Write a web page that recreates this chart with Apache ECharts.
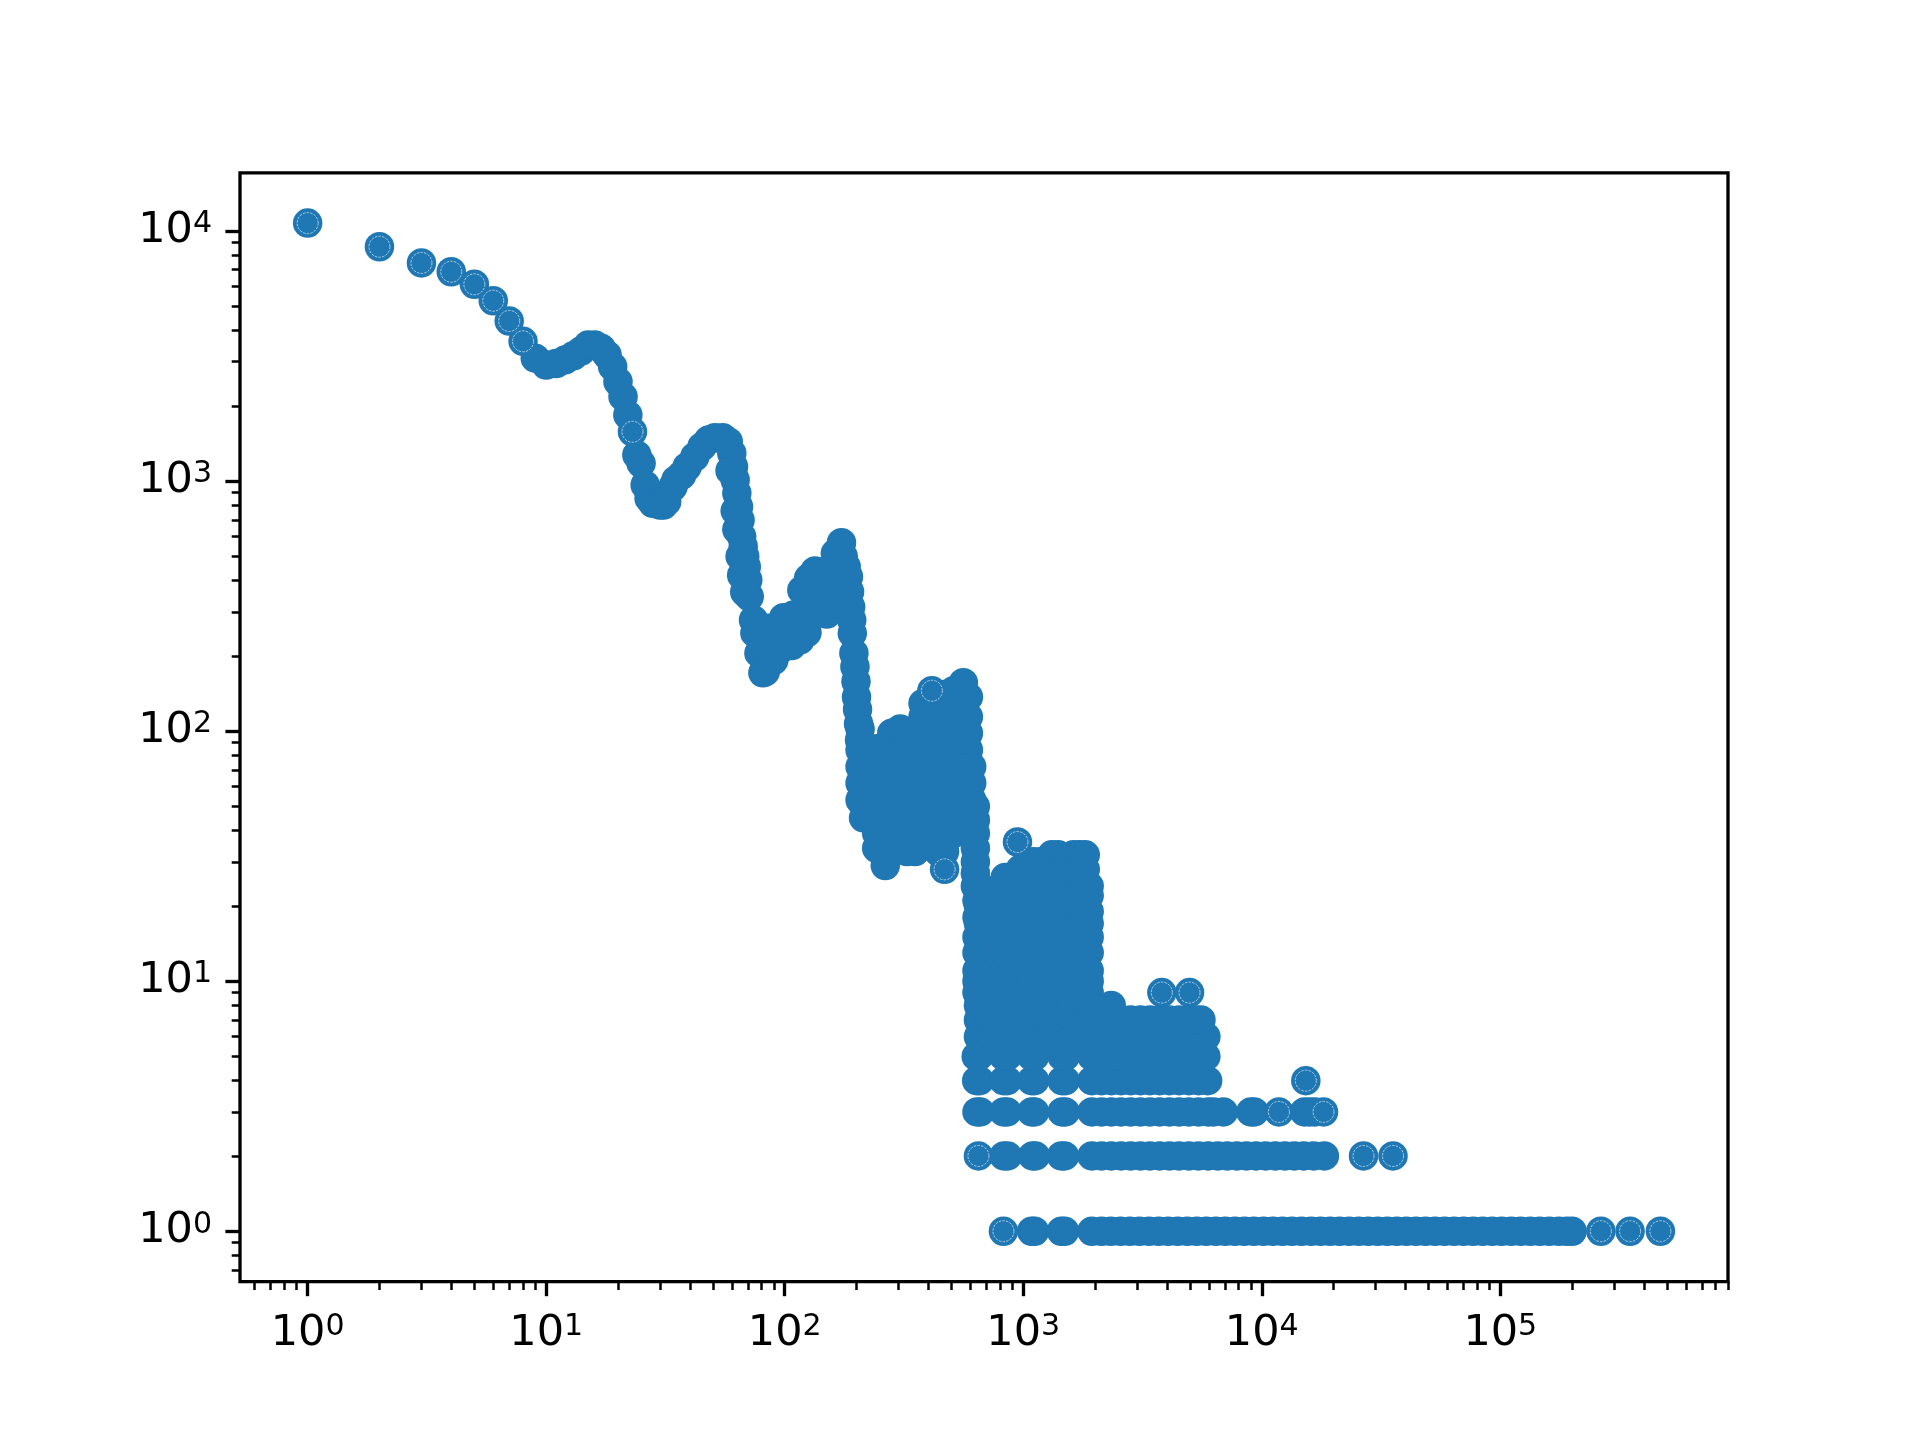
<!DOCTYPE html>
<html>
<head>
<meta charset="utf-8">
<style>html,body{margin:0;padding:0;background:#fff}#c{width:1920px;height:1440px}</style>
<script src="https://cdn.jsdelivr.net/npm/echarts@6/dist/echarts.min.js"></script>
</head>
<body>
<div id="c"></div>
<script>
// Head of the curve: one point per rank
const curveX = [1,2,3,4,5,6,7,8,9,10,11,12,13,14,15,16,17,18,19,20,21,22,23,24,25,26,27,28,29,30,31,32,34,35,37,39,42,45,48,51,55,58,60,61,62,63,64,65,66,67,68,69,70,71,74,75,78,81,59,62,63,65,66,68];
const curveY = [10750,8650,7450,6870,6120,5260,4365,3620,3100,2910,2950,3050,3170,3310,3500,3500,3396,3192,2866,2495,2174,1837,1574,1271,1177,964,853,815,815,802,802,827,949,1010,1057,1141,1250,1372,1460,1490,1490,1437,1291,1141,1010,895,789,698,599,547,500,454,402,345,278,247,205,171,1100,760,640,500,420,360];

// Second hump
const humpX = [85,99,109,118,126,134,152,163,173,83,90,96,107,116,124,136,150,165,99,124,152,173,179,176,181,185,187,189,191,192,195,197,199,200,202,204,206];
const humpY = [258,284,291,366,409,437,441,514,567,173,192,213,220,232,248,299,294,327,247,314,355,454,378,498,454,414,361,314,278,246,205,181,158,137,122,107,92];

// Dense block around 200-650
const blockX = [207,214,228,243,264,281,305,325,352,380,414,440,468,511,561,589,608];
const blockY = [
  [102,84,72,62,53],
  [53,45],
  [84,72,62,53,45],
  [85,72,62,53,45,39,34],
  [84,72,62,53,45,39,33,29],
  [98,84,72,62,53,45,39,36],
  [102,84,72,62,53,45,39,35],
  [98,84,72,62,53,45,39,33],
  [98,84,72,62,53,45,39,33],
  [129,114,98,84,72,62,53,45,39,36],
  [145,133,114,98,84,72,62,53,45,38],
  [137,114,98,84,72,62,53,45,39,33],
  [140,114,98,84,72,62,53,45,39,33,28],
  [145,114,98,84,72,62,53,45,39],
  [156,133,114,98,84,72,62,53,45],
  [137,114,98,84,72],
  [72,62,53,45]
];

// Narrow neck joining the block to the tall block
const neckX = [630,630,630,630,630,630,630,640,640,640,640,640,640,640,640];
const neckY = [50,44,39,34,30,27,24,24,21,18,15,13,11,10,9];

// Tall block around 700-1900
const tallX = [649,727,780,840,946,971,1040,1104,1180,1250,1318,1400,1475,1550,1625,1720,1820,1890];
const tallY = [
  [20,17,15,13,11,10,9,8,7,6],
  [23,19,17,15,13,11,9,7,6],
  [23,19,17,15,13,11,9,7,6],
  [26,22,19,17,15,13,11,10,8,7,6],
  [36],
  [28,25,22,19,17,15,13,11,9,7,6],
  [28,25,22,19,17,15,13,11,9,7,6],
  [30,28,25,22,19,17,15,13,11,10,8,7,6],
  [30,25,22,19,17,15,13,11,9,7,6],
  [30,25,22,19,17,15,13,11,9,7,6],
  [32,28,25,22,19,17,15,13,11,10,8,7,6],
  [32,28,25,22,19,17,15,13,11,9,7,6],
  [30,28,25,22,19,17,15,13,11,10,8,7,6],
  [30,28,25,22,19,17,15,13,11,9,7,6],
  [32,28,25,22,19,17,15,13,11,10,8,7,6],
  [32,28,25,22,19,17,15,13,11,9,7,6],
  [32,28,25,22,19,17,15,13,11,10,8,7,6],
  [24,22,19,17,15,13,11,10,9,8,7,6]
];

// Integer rows
const rowOneX = [826,1085,1115,1445,1490,1940,2130,2330,2560,2800,3070,3370,3700,4050,4440,4870,5340,5850,6420,7030,7710,8450,9270,10160,11140,12210,13390,14680,16100,17650,19350,21200,23250,25500,27950,30650,33600,36850,40400,44300,48550,53250,58350,64000,70150,76900,84300,92450,101300,111100,121800,133500,146400,160500,176000,190000,200000,264000,350000,469000];
const rowTwoX = [649,830,860,1095,1125,1445,1490,1940,2130,2340,2570,2820,3100,3400,3730,4100,4500,4950,5430,5960,6540,7170,7860,8630,9460,10380,11400,12500,13700,15000,16500,18300,26700,35500];
const rowThreeX = [640,660,828,856,1085,1115,1455,1500,1940,2130,2340,2570,2820,3100,3400,3730,4100,4500,4950,5430,5960,6270,6900,9000,9300,11800,15100,15900,16700,18150];
const rowFourX = [638,656,828,856,1085,1115,1455,1500,1940,2130,2340,2570,2820,3100,3400,3730,4100,4500,4950,5430,5930,15300];
const rowFiveX = [635,650,828,856,1085,1115,1455,1500,1940,2130,2340,2570,2820,3100,3400,3730,4100,4500,4950,5430,5830];
const rowSixX = [745,970,1280,1650,1940,2130,2340,2570,2820,3100,3400,3730,4100,4500,4950,5430,5830];
const rowSevenX = [1900,2130,2340,2570,2820,3100,3400,3730,4100,4500,4950,5300,5560];
const rowEightX = [2339];
const rowNineX = [3811,4980];

// Points whose thin inner ring is still visible
const ringX = [1,2,3,4,5,6,7,8,23,414,468,946,3811,4980,15300,11800,18150,26700,35500,649,826,264000,350000,469000];
const ringY = [10750,8650,7450,6870,6120,5260,4365,3620,1574,145,28,36,9,9,4,3,3,2,2,2,1,1,1,1];

// Axis ticks
const xTickValues = [1,10,100,1000,10000,100000];
const yTickValues = [1,10,100,1000,10000];
const xTickExponents = ['0','1','2','3','4','5'];
const yTickExponents = ['0','1','2','3','4'];
const xMinorValues = [0.6,0.7,0.8,0.9,2,3,4,5,6,7,8,9,20,30,40,50,60,70,80,90,200,300,400,500,600,700,800,900,2000,3000,4000,5000,6000,7000,8000,9000,20000,30000,40000,50000,60000,70000,80000,90000,200000,300000,400000,500000,600000,700000,800000,900000];
const yMinorValues = [0.7,0.8,0.9,2,3,4,5,6,7,8,9,20,30,40,50,60,70,80,90,200,300,400,500,600,700,800,900,2000,3000,4000,5000,6000,7000,8000,9000];

const X_MIN = 0.5205, X_MAX = 900700, Y_MIN = 0.6288, Y_MAX = 17085;
const BLUE = '#1f77b4';

const points = [];
curveX.forEach((x, i) => points.push([x, curveY[i]]));
humpX.forEach((x, i) => points.push([x, humpY[i]]));
blockX.forEach((x, i) => blockY[i].forEach(y => points.push([x, y])));
neckX.forEach((x, i) => points.push([x, neckY[i]]));
tallX.forEach((x, i) => tallY[i].forEach(y => points.push([x, y])));
[[rowOneX,1],[rowTwoX,2],[rowThreeX,3],[rowFourX,4],[rowFiveX,5],[rowSixX,6],[rowSevenX,7],[rowEightX,8],[rowNineX,9]]
  .forEach(([xs, y]) => xs.forEach(x => points.push([x, y])));

const exponentLabel = (values, exps) => v => {
  const i = values.findIndex(t => Math.abs(t - v) / t < 1e-6);
  return i < 0 ? '' : '{b|10}{s|' + exps[i] + '}';
};
const rich = {
  b: {fontFamily: 'DejaVu Sans', fontSize: 43, lineHeight: 43, color: '#000'},
  s: {fontFamily: 'DejaVu Sans', fontSize: 30, lineHeight: 10, verticalAlign: 'top', color: '#000'}
};
const baseAxis = {
  type: 'log', logBase: 10, splitLine: {show: false}, minorTick: {show: false},
  axisLine: {show: false}
};
const majorTick = values => ({show: true, inside: false, length: 14.6, customValues: values,
  lineStyle: {color: '#000', width: 3.33}});
const minorTick = values => ({show: true, inside: false, length: 8.3, customValues: values,
  lineStyle: {color: '#000', width: 2.5}});

const option = {
  animation: false,
  backgroundColor: '#fff',
  grid: {left: 240, top: 172.8, width: 1488, height: 1108.8, show: true,
    backgroundColor: 'transparent', borderColor: '#000', borderWidth: 3.33, containLabel: false},
  xAxis: [
    Object.assign({}, baseAxis, {min: X_MIN, max: X_MAX, position: 'bottom',
      axisTick: majorTick(xTickValues),
      axisLabel: {show: true, customValues: xTickValues, margin: 31, rich,
        formatter: exponentLabel(xTickValues, xTickExponents)}}),
    Object.assign({}, baseAxis, {min: X_MIN, max: X_MAX, position: 'bottom',
      axisTick: minorTick(xMinorValues), axisLabel: {show: false}})
  ],
  yAxis: [
    Object.assign({}, baseAxis, {min: Y_MIN, max: Y_MAX, position: 'left',
      axisTick: majorTick(yTickValues),
      axisLabel: {show: true, customValues: yTickValues, margin: 28, rich,
        formatter: exponentLabel(yTickValues, yTickExponents)}}),
    Object.assign({}, baseAxis, {min: Y_MIN, max: Y_MAX, position: 'left',
      axisTick: minorTick(yMinorValues), axisLabel: {show: false}})
  ],
  series: [
    {type: 'scatter', name: 'points', xAxisIndex: 0, yAxisIndex: 0, symbol: 'circle', symbolSize: 29.5,
      itemStyle: {color: BLUE, opacity: 1}, silent: true, data: points, z: 2},
    {type: 'scatter', name: 'rings', xAxisIndex: 0, yAxisIndex: 0, symbol: 'circle', symbolSize: 21,
      itemStyle: {color: 'transparent', borderColor: '#ffffff', borderWidth: 0.6, borderType: [2.5, 1.2], opacity: 1},
      silent: true, data: ringX.map((x, i) => [x, ringY[i]]), z: 3}
  ]
};
echarts.init(document.getElementById('c'), null, {renderer: 'canvas'}).setOption(option);
</script>
</body>
</html>
